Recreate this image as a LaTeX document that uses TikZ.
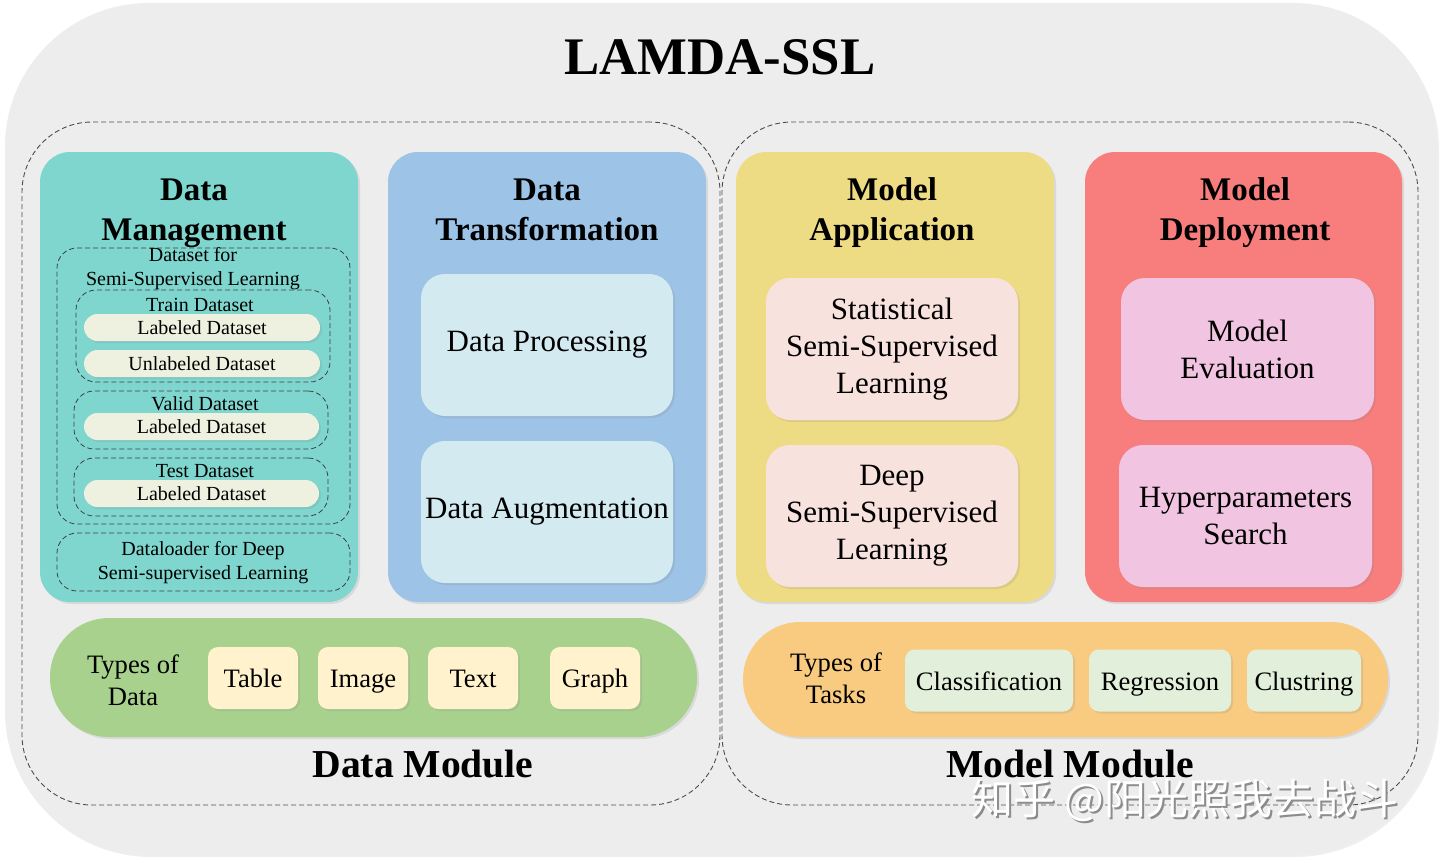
\documentclass[tikz,border=0pt]{standalone}
\usepackage{fontspec}
\setmainfont{Liberation Serif}
\newfontfamily\cjk{Noto Sans CJK SC}
\usetikzlibrary{shadows}

\definecolor{frameC}{HTML}{EDEDED}
\definecolor{tealC}{HTML}{7FD6CE}
\definecolor{blueC}{HTML}{9DC3E6}
\definecolor{yellowC}{HTML}{EEDC84}
\definecolor{redC}{HTML}{F87E7E}
\definecolor{lblueC}{HTML}{D3EAF1}
\definecolor{lpinkC}{HTML}{F8E2DE}
\definecolor{pinkC}{HTML}{F1C5E1}
\definecolor{pillC}{HTML}{EEF1E0}
\definecolor{greenC}{HTML}{A9D18E}
\definecolor{creamC}{HTML}{FFF2CC}
\definecolor{orangeC}{HTML}{F8CB80}
\definecolor{lgreenC}{HTML}{E2EFDA}

\begin{document}
\begin{tikzpicture}[x=0.5pt,y=-0.5pt,
  shade/.style={drop shadow={shadow xshift=1pt,shadow yshift=-1pt,opacity=0.18}},
  panel/.style={shade, rounded corners=15pt, minimum width=159pt, minimum height=225pt, inner sep=0pt},
  head/.style={font=\bfseries\fontsize{16.5}{20}\selectfont, align=center, inner sep=0pt},
  inbox/.style={shade, rounded corners=12pt, minimum width=126pt, minimum height=71pt, inner sep=0pt, align=center, font=\fontsize{15.5}{18.5}\selectfont},
  dashbox/.style={draw=black!75, dash pattern=on 2.5pt off 1.5pt, line width=0.4pt, rounded corners=10pt, minimum width=127pt, inner sep=0pt},
  pill/.style={shade, fill=pillC, rounded corners=6.75pt, minimum width=118pt, minimum height=13.5pt, inner sep=0pt, text height=7.5pt, text depth=0.5pt, font=\fontsize{10}{12}\selectfont},
  small/.style={font=\fontsize{10}{12}\selectfont, align=center, inner sep=0pt},
  module/.style={draw=black!70, dash pattern=on 2.5pt off 1.5pt, line width=0.45pt, rounded corners=35pt, minimum height=341.5pt, inner sep=0pt},
  band/.style={shade, inner sep=0pt},
  tag/.style={shade, rounded corners=5pt, minimum height=31pt, inner sep=0pt, text height=9.5pt, text depth=0pt, font=\fontsize{13.3}{16}\selectfont},
  kind/.style={font=\fontsize{13.3}{16}\selectfont, align=center, inner sep=0pt},
  modname/.style={font=\bfseries\fontsize{19.8}{24}\selectfont, inner sep=0pt}]

\useasboundingbox (0,0) rectangle (1440,858);
\fill[white] (0,0) rectangle (1440,858);

% outer frame and title
\node[fill=frameC, rounded corners=72pt, minimum width=716pt, minimum height=426pt, inner sep=0pt,
  drop shadow={shadow xshift=1pt,shadow yshift=-1pt,opacity=0.12}] (frame) at (721,429) {};
\node[font=\bfseries\fontsize{26.4}{30}\selectfont, inner sep=0pt] (title) at (720,57) {LAMDA-SSL};

% the two modules
\node[module, minimum width=349pt] (datamod) at (371,463.5) {};
\node[module, minimum width=348pt] (modelmod) at (1070,463.5) {};

% four panels
\node[panel, fill=tealC] (dm) at (199,377) {};
\node[panel, fill=blueC] (dt) at (547,377) {};
\node[panel, fill=yellowC] (ma) at (895,377) {};
\node[panel, fill=redC, minimum width=158.5pt] (md) at (1243.5,377) {};

\node[head] (dmh) at (194,213) {Data\\Management};
\node[head] (dth) at (547,210) {Data\\Transformation};
\node[head] (mah) at (892,213) {Model\\Application};
\node[head] (mdh) at (1245,213) {Model\\Deployment};

% data management
\node[dashbox, minimum width=146.5pt, minimum height=138pt] (ssl) at (203.5,386) {};
\node[small] (sslh) at (193,269) {Dataset for\\Semi-Supervised Learning};
\node[dashbox, minimum height=46pt] (train) at (203,336) {};
\node[small] (trainh) at (200,305) {Train Dataset};
\node[pill] (trlab) at (202,327.5) {Labeled Dataset};
\node[pill] (trunl) at (202,363.5) {Unlabeled Dataset};
\node[dashbox, minimum height=29pt] (valid) at (201,420) {};
\node[small] (validh) at (205,404) {Valid Dataset};
\node[pill, minimum width=117.5pt] (valab) at (201.5,426.5) {Labeled Dataset};
\node[dashbox, minimum height=29pt] (test) at (201,487) {};
\node[small] (testh) at (205,471) {Test Dataset};
\node[pill, minimum width=117.5pt] (telab) at (201.5,493.5) {Labeled Dataset};
\node[dashbox, minimum width=146.5pt, minimum height=29pt] (loader) at (203.5,562) {};
\node[small] (loaderh) at (203,563) {Dataloader for Deep\\Semi-supervised Learning};

% inner boxes
\node[inbox, fill=lblueC] (proc) at (547,345) {Data Processing};
\node[inbox, fill=lblueC] (aug) at (547,512) {Data Augmentation};
\node[inbox, fill=lpinkC] (stat) at (892,349) {Statistical\\Semi-Supervised\\Learning};
\node[inbox, fill=lpinkC] (deep) at (892,516) {Deep\\Semi-Supervised\\Learning};
\node[inbox, fill=pinkC, minimum width=126.5pt] (eval) at (1247.5,349) {Model\\Evaluation};
\node[inbox, fill=pinkC, minimum width=126.5pt] (hyper) at (1245.5,516) {Hyperparameters\\Search};

% types of data
\node[band, fill=greenC, rounded corners=29.5pt, minimum width=323.5pt, minimum height=59.5pt] (databand) at (373.5,677.5) {};
\node[kind] (datakind) at (133,680) {Types of\\Data};
\node[tag, fill=creamC, minimum width=45pt] (table) at (253,678) {Table};
\node[tag, fill=creamC, minimum width=45pt] (image) at (363,678) {Image};
\node[tag, fill=creamC, minimum width=45pt] (text) at (473,678) {Text};
\node[tag, fill=creamC, minimum width=45pt] (graph) at (595,678) {Graph};
\node[modname] (dmname) at (423,764) {Data Module};

% types of tasks
\node[band, fill=orangeC, rounded corners=28.5pt, minimum width=322.5pt, minimum height=57.5pt] (taskband) at (1065.5,679.5) {};
\node[kind] (taskkind) at (836,678) {Types of\\Tasks};
\node[tag, fill=lgreenC, minimum width=84pt] (cls) at (989,680.5) {Classification};
\node[tag, fill=lgreenC, minimum width=71pt] (reg) at (1160,680.5) {Regression};
\node[tag, fill=lgreenC, minimum width=57pt] (clu) at (1304,680.5) {Clustring};
\node[modname] (mmname) at (1070,764) {Model Module};

% watermark
\node[font=\cjk\fontsize{21}{21}\selectfont, text=black!45, inner sep=0pt] (wmshade) at (1187,802) {知乎 @阳光照我去战斗};
\node[font=\cjk\fontsize{21}{21}\selectfont, text=white, inner sep=0pt] (wm) at (1185,800) {知乎 @阳光照我去战斗};
\end{tikzpicture}
\end{document}
